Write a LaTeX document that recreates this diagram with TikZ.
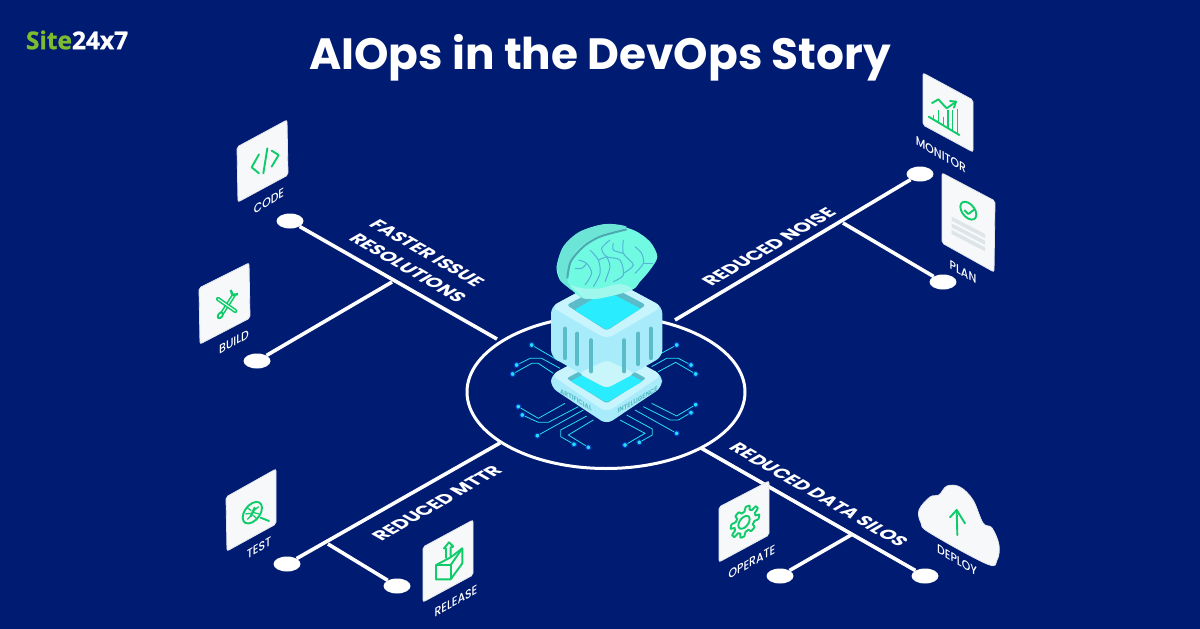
\documentclass[tikz,border=0pt]{standalone}
\usepackage{fontspec}
\setmainfont{Poppins}
\newfontfamily\logofont[BoldFeatures={FakeBold=1}]{Open Sans}
\newfontfamily\tagfont{Poppins Medium}
\usetikzlibrary{shapes.geometric,positioning}
\definecolor{navy}{RGB}{0,27,114}
\definecolor{leaf}{RGB}{16,203,106}
\definecolor{logogreen}{RGB}{125,187,47}
\definecolor{cardface}{RGB}{247,248,249}
\definecolor{cardedge}{RGB}{226,229,235}
\definecolor{planbar}{RGB}{222,229,232}
\definecolor{blockside}{RGB}{168,236,251}
\definecolor{blocktop}{RGB}{200,245,253}
\definecolor{blockpale}{RGB}{200,246,250}
\definecolor{blockdark}{RGB}{90,188,200}
\definecolor{blockcyan}{RGB}{42,236,255}
\definecolor{trace}{RGB}{40,224,238}
\definecolor{pinring}{RGB}{0,62,190}
\definecolor{brainlight}{RGB}{112,250,226}
\definecolor{brainpale}{RGB}{160,248,236}
\definecolor{braindark}{RGB}{108,228,214}
\definecolor{brainband}{RGB}{78,168,176}
\definecolor{braingroove}{RGB}{84,180,214}
\tikzset{
  floorD/.style={cm={.866,-.5,.866,.5,(0,0)}},
  floorU/.style={cm={.866,.5,-.866,.5,(0,0)}},
  wallU/.style={cm={.866,.5,0,1,(0,0)}},
  wallD/.style={cm={.866,-.5,0,1,(0,0)}},
  branch/.style={draw=white,line width=3.6pt},
  pad/.style={ellipse,fill=white,minimum width=27pt,minimum height=15pt,inner sep=0pt},
  bigtext/.style={text=white,font=\bfseries\fontsize{18.5}{20}\selectfont,align=center,inner sep=0pt},
  tag/.style={text=white,font=\tagfont\fontsize{12.5}{14}\selectfont,inner sep=0pt},
  card/.style={fill=cardface,draw=cardedge,line width=.8pt,rounded corners=2pt},
  icon/.style={draw=leaf,line width=1.9pt,line join=round},
  zoomA/.style={shift={(450,210)},scale=1/3},
  wire/.style={draw=trace,line width=.8pt},
  pin/.style={circle,fill=trace,draw=pinring,line width=1pt,minimum size=5pt,inner sep=0pt},
  groove/.style={draw=braingroove,line width=1pt},
  fin/.style={draw=blockdark,line width=4.2pt,line cap=round},
  chiptext/.style={text=blockdark,font=\bfseries\fontsize{6.8}{8}\selectfont,inner sep=0pt}
}
\begin{document}
\begin{tikzpicture}[x=1pt,y=-1pt]
\useasboundingbox (0,0) rectangle (1200,629);
\fill[navy] (0,0) rectangle (1200,629);
\node (title) at (600,58) [text=white,font=\bfseries\fontsize{43.8}{47}\selectfont,inner sep=0pt] {AIOps in the DevOps Story};
\node (logo) at (77,40) [font=\logofont\bfseries\fontsize{24.5}{26}\selectfont,inner sep=0pt] {\textcolor{logogreen}{Site}\textcolor{white}{24x7}};
\node (hub) at (606,392) [ellipse,draw=white,line width=3pt,minimum width=278pt,minimum height=153pt,inner sep=0pt] {};
\node (pcode) at (290,221) [pad] {};
\node (pbuild) at (257,361) [pad] {};
\node (pmonitor) at (920,174) [pad] {};
\node (pplan) at (943,282) [pad] {};
\node (ptest) at (287,564) [pad] {};
\node (prelease) at (397,586) [pad] {};
\node (poperate) at (780,576) [pad] {};
\node (pdeploy) at (925,576) [pad] {};
\coordinate (hubA) at (497,339);
\coordinate (hubB) at (675,320);
\coordinate (hubC) at (500,443);
\coordinate (hubD) at (701,448);
\coordinate (joinA) at (392,282);
\coordinate (joinB) at (843,223);
\coordinate (joinC) at (328,544);
\coordinate (joinD) at (851,535);
\draw[branch] (pcode) -- (hubA);
\draw[branch] (pbuild) -- (joinA);
\draw[branch] (pmonitor) -- (hubB);
\draw[branch] (pplan) -- (joinB);
\draw[branch] (ptest) -- (hubC);
\draw[branch] (prelease) -- (joinC);
\draw[branch] (pdeploy) -- (hubD);
\draw[branch] (poperate) -- (joinD);
\node (lfaster) at (427,253) [bigtext,floorD] {FASTER ISSUE};
\node (lresol) at (408,268) [bigtext,floorD] {RESOLUTIONS};
\node (lnoise) at (769,247) [bigtext,floorU] {REDUCED NOISE};
\node (lmttr) at (437,503) [bigtext,floorU] {REDUCED MTTR};
\node (lsilos) at (819,495) [bigtext,floorD] {REDUCED DATA SILOS};
\draw[card] (237,147) -- (287,120) -- (288,175) -- (238,202) -- cycle;
\draw[card] (199,288) -- (249,263) -- (250,318) -- (200,344) -- cycle;
\draw[card] (923,73) -- (973,100) -- (973,152) -- (923,125) -- cycle;
\draw[card] (942,173) -- (995,201) -- (994,272) -- (942,243) -- cycle;
\draw[card] (226,497) -- (276,469) -- (276,524) -- (227,551) -- cycle;
\draw[card] (423,547) -- (473,520) -- (473,575) -- (423,602) -- cycle;
\draw[card] (719,507) -- (769,481) -- (769,535) -- (719,562) -- cycle;
\draw[card,rounded corners=0pt] plot[smooth cycle,tension=.6] coordinates {(919,510) (930,497) (939,495) (947,486) (960,487) (973,500) (983,523) (992,528) (999,545) (997,560) (987,564) (930,533) (921,523)};
\node (tcode) at (269,201) [tag,wallU] {CODE};
\node (tbuild) at (234,342) [tag,wallU] {BUILD};
\node (tmonitor) at (941,155) [tag,wallD] {MONITOR};
\node (tplan) at (963,272) [tag,wallD] {PLAN};
\node (ttest) at (259,548) [tag,wallU] {TEST};
\node (trelease) at (456,601) [tag,wallU] {RELEASE};
\node (toperate) at (752,562) [tag,wallU] {OPERATE};
\node (tdeploy) at (957,560) [tag,wallD] {DEPLOY};
\begin{scope}[shift={(190,110)},scale=1/3]
\draw[icon,line cap=round] (207,133) -- (185,172) -- (207,190);
\draw[icon,line cap=round] (232,115) -- (220,190);
\draw[icon,line cap=round] (245,122) -- (266,135) -- (245,170);
\draw[icon,line width=4.2pt,line cap=round] (131,556) -- (95,612);
\draw[white,line width=1pt,line cap=round] (131,556) -- (95,612);
\draw[icon,line width=4.2pt,line cap=round] (84,567) -- (136,603);
\draw[white,line width=1pt,line cap=round] (84,567) -- (136,603);
\draw[icon,fill=cardface,shift={(91,616)},cm={1,.5,0,1,(0,0)}] circle (8);
\draw[icon,line width=2.4pt] (122,540) -- (128,556) -- (144,552);
\end{scope}
\begin{scope}[shift={(690,60)},scale=1/3]
\draw[icon] (725,130) -- (745,118) -- (770,145) -- (798,125);
\draw[icon,line cap=round] (780,123) -- (798,125) -- (792,143);
\draw[icon,line cap=round] (716,170) -- (808,225);
\draw[icon,line width=1.6pt] (730,165) -- (730,180);
\draw[icon,line width=1.6pt] (745,150) -- (745,188);
\draw[icon,line width=1.6pt] (760,170) -- (760,198);
\draw[icon,line width=1.6pt] (774,150) -- (774,205);
\draw[icon,line width=1.6pt] (788,150) -- (788,213);
\draw[icon,line width=1.6pt] (802,148) -- (802,222);
\draw[icon,shift={(835,452)},cm={1,-.5,0,1,(0,0)}] circle (24);
\draw[icon] (823,450) -- (835,462) -- (855,447);
\fill[planbar] (785,470) -- (885,522) -- (885,534) -- (785,482) -- cycle;
\fill[planbar] (785,490) -- (885,542) -- (885,554) -- (785,502) -- cycle;
\fill[planbar] (785,510) -- (885,562) -- (885,574) -- (785,522) -- cycle;
\end{scope}
\begin{scope}[shift={(210,450)},scale=1/3]
\draw[icon,shift={(127,188)},cm={1,.5,0,1,(0,0)}] circle (29);
\draw[icon,line cap=round] (152,203) -- (177,213);
\draw[icon,line width=2.4pt] (135,172) -- (122,200);
\draw[icon,line width=1.3pt] (110,172) -- (124,182);
\draw[icon,line width=1.3pt] (146,170) -- (134,180);
\draw[icon,line width=1.3pt] (106,192) -- (122,190);
\draw[icon,line width=1.3pt] (148,192) -- (132,188);
\draw[icon,line width=1.3pt] (112,208) -- (122,198);
\draw[icon,line width=1.3pt] (142,208) -- (130,196);
\draw[icon] (678,345) -- (722,322) -- (757,295) -- (757,340) -- (722,388) -- (678,388) -- cycle;
\draw[icon] (678,345) -- (722,345) -- (722,388);
\draw[icon] (722,345) -- (757,295);
\draw[icon] (708,325) -- (708,295) -- (702,295) -- (717,277) -- (730,290) -- (722,292) -- (722,320);
\end{scope}
\begin{scope}[shift={(690,430)},scale=1/3]
\draw[icon,shift={(165,275)},cm={1,.55,0,1,(0,0)}] plot[domain=0:360,samples=121] ({(37+6*max(-1,min(1,2.5*sin(8*\x))))*cos(\x)},{(37+6*max(-1,min(1,2.5*sin(8*\x))))*sin(\x)}) -- cycle;
\draw[icon,shift={(162,277)},cm={1,.55,0,1,(0,0)}] circle (17);
\draw[icon,line cap=round] (802,315) -- (800,240);
\draw[icon,line cap=round] (780,262) -- (800,240) -- (825,280);
\end{scope}
\begin{scope}[zoomA]
\node (a1) at (245,405) [pin] {};
\node (a2) at (200,465) [pin] {};
\node (a3) at (188,492) [pin] {};
\node (a4) at (680,405) [pin] {};
\node (a5) at (723,465) [pin] {};
\node (a6) at (737,492) [pin] {};
\node (a7) at (205,590) [pin] {};
\node (a8) at (217,615) [pin] {};
\node (a9) at (262,677) [pin] {};
\node (a10) at (372,703) [pin] {};
\node (a11) at (415,712) [pin] {};
\node (a12) at (737,584) [pin] {};
\node (a13) at (723,608) [pin] {};
\node (a14) at (680,670) [pin] {};
\node (a15) at (568,697) [pin] {};
\node (a16) at (525,705) [pin] {};
\draw[wire] (a1) -- (325,452);
\draw[wire] (a2) -- (240,445) -- (275,445) -- (330,475);
\draw[wire] (a3) -- (245,460) -- (265,460) -- (310,490);
\draw[wire] (a4) -- (630,432);
\draw[wire] (a5) -- (685,445) -- (650,445) -- (605,470);
\draw[wire] (a6) -- (677,457) -- (625,485);
\draw[wire] (a7) -- (265,625) -- (345,580);
\draw[wire] (a8) -- (265,637) -- (295,637) -- (385,590);
\draw[wire] (a9) -- (400,600);
\draw[wire] (a10) -- (332,680) -- (332,660) -- (410,618);
\draw[wire] (a11) -- (355,675) -- (430,630);
\draw[wire] (a12) -- (680,618) -- (605,580);
\draw[wire] (a13) -- (685,630) -- (660,630) -- (580,590);
\draw[wire] (a14) -- (555,600);
\draw[wire] (a15) -- (607,675) -- (607,657) -- (530,615);
\draw[wire] (a16) -- (585,670) -- (510,630);
\fill[blockside,rounded corners=7pt] (303,495) -- (470,405) -- (636,495) -- (636,532) -- (470,643) -- (303,532) -- cycle;
\fill[blocktop,rounded corners=7pt] (303,495) -- (470,405) -- (636,495) -- (470,607) -- cycle;
\fill[blockdark,rounded corners=2pt] (350,505) -- (470,440) -- (588,505) -- (470,580) -- cycle;
\fill[blockcyan,rounded corners=2pt] (362,514) -- (470,455) -- (578,514) -- (470,577) -- cycle;
\node (lart) at (378,570) [chiptext,wallD] {ARTIFICIAL};
\node (lint) at (563,570) [chiptext,wallU] {INTELLIGENCE};
\fill[blockside,rounded corners=7pt] (303,290) -- (470,200) -- (637,290) -- (637,440) -- (470,535) -- (303,440) -- cycle;
\fill[blockpale,rounded corners=5pt] (385,490) -- (470,450) -- (555,490) -- (470,535) -- cycle;
\fill[blocktop,rounded corners=7pt] (303,290) -- (470,200) -- (637,290) -- (470,387) -- cycle;
\fill[blockdark,rounded corners=3pt] (350,285) -- (470,222) -- (588,285) -- (470,362) -- cycle;
\fill[blockcyan,rounded corners=2pt] (373,300) -- (470,243) -- (572,296) -- (470,360) -- cycle;
\draw[fin] (345,356) -- (345,444);
\draw[fin] (382,371) -- (382,462);
\draw[fin] (423,391) -- (423,484);
\draw[fin] (523,391) -- (523,484);
\draw[fin] (565,371) -- (565,462);
\draw[fin] (602,356) -- (602,444);
\fill[brainlight] plot[smooth cycle] coordinates {(320,170) (340,110) (390,65) (470,42) (550,60) (600,95) (622,140) (600,180) (570,215) (545,240) (450,265) (400,265) (365,240) (330,210)};
\fill[brainpale] plot[smooth] coordinates {(360,225) (400,235) (450,235) (510,222) (545,240) (450,265) (400,265)} -- cycle;
\fill[braindark] plot[smooth] coordinates {(320,170) (340,110) (390,65) (470,42) (530,52) (440,80) (385,115) (358,160) (352,210) (365,240) (330,210)} -- cycle;
\draw[brainband,line width=2pt] plot[smooth] coordinates {(352,205) (362,155) (400,110) (450,80) (530,58)};
\draw[groove] plot[smooth] coordinates {(385,150) (410,160) (425,190) (405,225)};
\draw[groove] plot[smooth] coordinates {(420,120) (445,150) (450,190) (430,230)};
\draw[groove] plot[smooth] coordinates {(480,90) (455,115) (470,140) (510,150) (520,195) (490,215)};
\draw[groove] plot[smooth] coordinates {(520,90) (520,130) (550,165) (520,190)};
\draw[groove] plot[smooth] coordinates {(555,110) (575,130) (580,160) (555,190)};
\draw[groove] plot[smooth] coordinates {(470,140) (480,170) (465,215)};
\draw[groove] plot[smooth] coordinates {(580,160) (610,160)};
\draw[groove] plot[smooth] coordinates {(445,150) (470,140)};
\draw[groove] plot[smooth] coordinates {(410,160) (395,175) (375,175)};
\draw[groove] plot[smooth] coordinates {(520,130) (490,120) (490,100)};
\end{scope}
\end{tikzpicture}
\end{document}
